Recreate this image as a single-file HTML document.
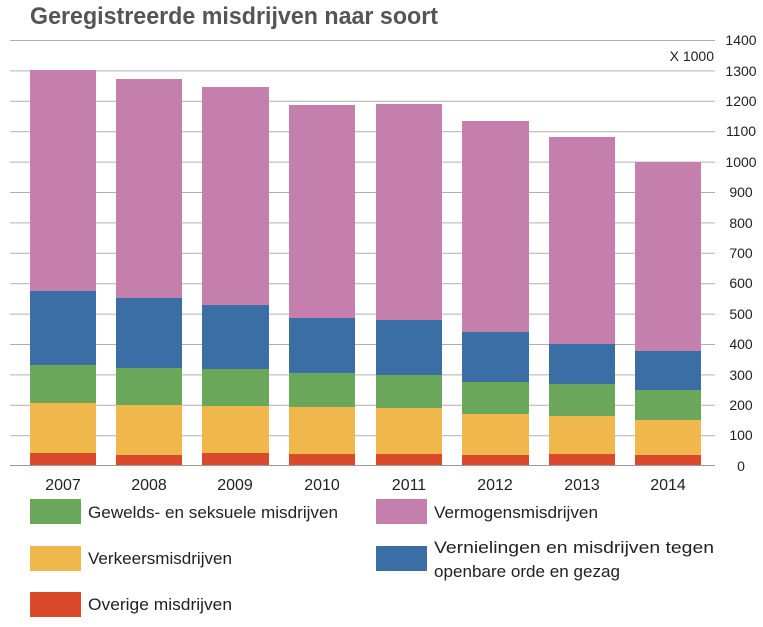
<!DOCTYPE html>
<html><head><meta charset="utf-8"><style>
html,body{margin:0;padding:0;background:#fff;}
svg{display:block;font-family:"Liberation Sans",sans-serif;}
</style></head><body>
<svg width="763" height="627" xmlns="http://www.w3.org/2000/svg">
<text x="30" y="24" font-size="24" font-weight="bold" fill="#555" textLength="408" lengthAdjust="spacingAndGlyphs">Geregistreerde misdrijven naar soort</text>
<g stroke="#b0b0b0" stroke-width="1">
<line x1="10" y1="40.5" x2="715" y2="40.5"/>
<line x1="10" y1="70.9" x2="715" y2="70.9"/>
<line x1="10" y1="101.3" x2="715" y2="101.3"/>
<line x1="10" y1="131.7" x2="715" y2="131.7"/>
<line x1="10" y1="162.1" x2="715" y2="162.1"/>
<line x1="10" y1="192.5" x2="715" y2="192.5"/>
<line x1="10" y1="222.9" x2="715" y2="222.9"/>
<line x1="10" y1="253.3" x2="715" y2="253.3"/>
<line x1="10" y1="283.7" x2="715" y2="283.7"/>
<line x1="10" y1="314.1" x2="715" y2="314.1"/>
<line x1="10" y1="344.5" x2="715" y2="344.5"/>
<line x1="10" y1="374.9" x2="715" y2="374.9"/>
<line x1="10" y1="405.3" x2="715" y2="405.3"/>
<line x1="10" y1="435.7" x2="715" y2="435.7"/>
</g>
<rect x="640" y="44" width="75" height="20" fill="#fff"/>
<text x="714" y="61" font-size="14" fill="#222" text-anchor="end">X 1000</text>
<g font-size="14" fill="#222" text-anchor="middle">
<text x="741" y="45">1400</text><text x="741" y="76">1300</text><text x="741" y="106">1200</text>
<text x="741" y="136">1100</text><text x="741" y="167">1000</text><text x="741" y="197">900</text>
<text x="741" y="228">800</text><text x="741" y="258">700</text><text x="741" y="288">600</text>
<text x="741" y="319">500</text><text x="741" y="349">400</text><text x="741" y="380">300</text>
<text x="741" y="410">200</text><text x="741" y="440">100</text><text x="741" y="471">0</text>
</g>
<g id="bars">
<!-- x, tops: red, orange, green, blue, pink -->
<rect x="30" y="453" width="66" height="13" fill="#d9492a"/><rect x="30" y="403" width="66" height="50" fill="#f0b84c"/><rect x="30" y="365" width="66" height="38" fill="#6aa75a"/><rect x="30" y="291" width="66" height="74" fill="#3a6ea5"/><rect x="30" y="70" width="66" height="221" fill="#c47fad"/>
<rect x="116" y="455" width="66" height="11" fill="#d9492a"/><rect x="116" y="405" width="66" height="50" fill="#f0b84c"/><rect x="116" y="368" width="66" height="37" fill="#6aa75a"/><rect x="116" y="298" width="66" height="70" fill="#3a6ea5"/><rect x="116" y="79" width="66" height="219" fill="#c47fad"/>
<rect x="202" y="453" width="67" height="13" fill="#d9492a"/><rect x="202" y="406" width="67" height="47" fill="#f0b84c"/><rect x="202" y="369" width="67" height="37" fill="#6aa75a"/><rect x="202" y="305" width="67" height="64" fill="#3a6ea5"/><rect x="202" y="87" width="67" height="218" fill="#c47fad"/>
<rect x="289" y="454" width="66" height="12" fill="#d9492a"/><rect x="289" y="407" width="66" height="47" fill="#f0b84c"/><rect x="289" y="373" width="66" height="34" fill="#6aa75a"/><rect x="289" y="318" width="66" height="55" fill="#3a6ea5"/><rect x="289" y="105" width="66" height="213" fill="#c47fad"/>
<rect x="376" y="454" width="66" height="12" fill="#d9492a"/><rect x="376" y="408" width="66" height="46" fill="#f0b84c"/><rect x="376" y="375" width="66" height="33" fill="#6aa75a"/><rect x="376" y="320" width="66" height="55" fill="#3a6ea5"/><rect x="376" y="104" width="66" height="216" fill="#c47fad"/>
<rect x="462" y="455" width="67" height="11" fill="#d9492a"/><rect x="462" y="414" width="67" height="41" fill="#f0b84c"/><rect x="462" y="382" width="67" height="32" fill="#6aa75a"/><rect x="462" y="332" width="67" height="50" fill="#3a6ea5"/><rect x="462" y="121" width="67" height="211" fill="#c47fad"/>
<rect x="549" y="454" width="66" height="12" fill="#d9492a"/><rect x="549" y="416" width="66" height="38" fill="#f0b84c"/><rect x="549" y="384" width="66" height="32" fill="#6aa75a"/><rect x="549" y="344" width="66" height="40" fill="#3a6ea5"/><rect x="549" y="137" width="66" height="207" fill="#c47fad"/>
<rect x="635" y="455" width="66" height="11" fill="#d9492a"/><rect x="635" y="420" width="66" height="35" fill="#f0b84c"/><rect x="635" y="390" width="66" height="30" fill="#6aa75a"/><rect x="635" y="351" width="66" height="39" fill="#3a6ea5"/><rect x="635" y="162" width="66" height="189" fill="#c47fad"/>
</g>
<line x1="10" y1="465.5" x2="715" y2="465.5" stroke="#999" stroke-width="1"/>
<g font-size="16" fill="#222" text-anchor="middle">
<text x="63" y="490">2007</text><text x="149" y="490">2008</text><text x="235" y="490">2009</text>
<text x="322" y="490">2010</text><text x="409" y="490">2011</text><text x="495" y="490">2012</text>
<text x="582" y="490">2013</text><text x="668" y="490">2014</text>
</g>
<g font-size="17" fill="#222">
<rect x="30" y="499" width="51" height="25" fill="#6aa75a"/><text x="88" y="518" textLength="250" lengthAdjust="spacingAndGlyphs">Gewelds- en seksuele misdrijven</text>
<rect x="30" y="546" width="51" height="25" fill="#f0b84c"/><text x="88" y="564" textLength="144" lengthAdjust="spacingAndGlyphs">Verkeersmisdrijven</text>
<rect x="30" y="592" width="51" height="25" fill="#d9492a"/><text x="88" y="610" textLength="144" lengthAdjust="spacingAndGlyphs">Overige misdrijven</text>
<rect x="376" y="499" width="51" height="25" fill="#c47fad"/><text x="434" y="518" textLength="164" lengthAdjust="spacingAndGlyphs">Vermogensmisdrijven</text>
<rect x="376" y="546" width="51" height="25" fill="#3a6ea5"/><text x="434" y="553" textLength="280" lengthAdjust="spacingAndGlyphs">Vernielingen en misdrijven tegen</text>
<text x="434" y="577" textLength="186" lengthAdjust="spacingAndGlyphs">openbare orde en gezag</text>
</g>
</svg>
</body></html>
